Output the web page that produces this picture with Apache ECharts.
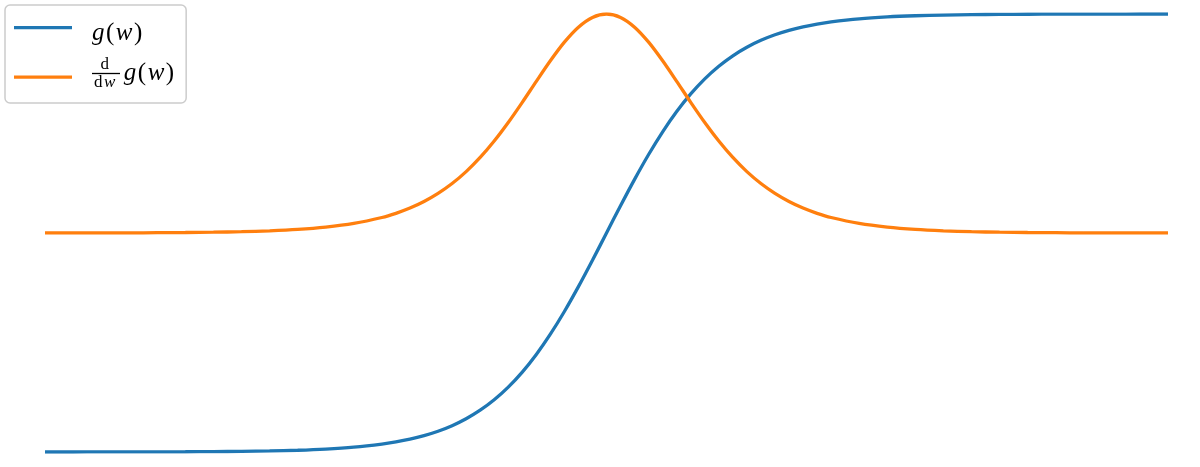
<!DOCTYPE html>
<html>
<head>
<meta charset="utf-8">
<script src="https://cdn.jsdelivr.net/npm/echarts@6/dist/echarts.min.js"></script>
<style>html,body{margin:0;padding:0;background:#fff}#c{width:1200px;height:467px}</style>
</head>
<body>
<div id="c"></div>
<script>
const seriesNames = ['g(w)', 'd/dw g(w)'];
const wValues = [-5,-4.75,-4.5,-4.25,-4,-3.75,-3.5,-3.25,-3,-2.75,-2.5,-2.25,
  -2,-1.875,-1.75,-1.625,-1.5,-1.375,-1.25,-1.125,-1,-0.875,-0.75,-0.625,-0.5,-0.375,-0.25,-0.125,0,
  0.125,0.25,0.375,0.5,0.625,0.75,0.875,1,1.125,1.25,1.375,1.5,1.625,1.75,1.875,2,
  2.25,2.5,2.75,3,3.25,3.5,3.75,4,4.25,4.5,4.75,5];
const gValues = [-0.9999,-0.9999,-0.9998,-0.9996,-0.9993,-0.9989,-0.9982,-0.9970,-0.9951,-0.9919,-0.9866,-0.9780,
  -0.9640,-0.9540,-0.9414,-0.9253,-0.9051,-0.8798,-0.8483,-0.8093,-0.7616,-0.7039,-0.6351,-0.5546,-0.4621,-0.3584,-0.2449,-0.1244,0,
  0.1244,0.2449,0.3584,0.4621,0.5546,0.6351,0.7039,0.7616,0.8093,0.8483,0.8798,0.9051,0.9253,0.9414,0.9540,0.9640,
  0.9780,0.9866,0.9919,0.9951,0.9970,0.9982,0.9989,0.9993,0.9996,0.9998,0.9999,0.9999];
const dgValues = [0.0002,0.0003,0.0005,0.0008,0.0013,0.0022,0.0036,0.0060,0.0099,0.0161,0.0266,0.0435,
  0.0707,0.0899,0.1138,0.1438,0.1808,0.2259,0.2804,0.3450,0.4200,0.5045,0.5966,0.6924,0.7864,0.8716,0.9400,0.9845,1,
  0.9845,0.9400,0.8716,0.7864,0.6924,0.5966,0.5045,0.4200,0.3450,0.2804,0.2259,0.1808,0.1438,0.1138,0.0899,0.0707,
  0.0435,0.0266,0.0161,0.0099,0.0060,0.0036,0.0022,0.0013,0.0008,0.0005,0.0003,0.0002];

const chart = echarts.init(document.getElementById('c'), null, {renderer: 'canvas'});
const serif = "'Liberation Serif', 'Times New Roman', serif";
const rich = {
  gap: {width: 15, align: 'left', fontSize: 10, fontFamily: serif},
  it1: {fontFamily: serif, fontStyle: 'italic', fontSize: 25, color: '#000', align: 'left', lineHeight: 30},
  up1: {fontFamily: serif, fontSize: 25, color: '#000', align: 'left', lineHeight: 30},
  s1: {width: 1.5, align: 'left', fontSize: 10, fontFamily: serif},
  it2: {fontFamily: serif, fontStyle: 'italic', fontSize: 25, color: '#000', align: 'left', lineHeight: 32},
  up2: {fontFamily: serif, fontSize: 25, color: '#000', align: 'left', lineHeight: 32},
  sp: {width: 8.4, align: 'left', fontSize: 10, fontFamily: serif},
  num: {fontFamily: serif, fontSize: 17, color: '#000', width: -8.4, height: 14, align: 'left', verticalAlign: 'top', lineHeight: 14},
  bar: {width: 28, height: 1.3, backgroundColor: '#000', align: 'left', fontSize: 1, lineHeight: 1, fontFamily: serif},
  back: {width: -28, align: 'left', fontSize: 1, lineHeight: 1, fontFamily: serif},
  dl: {width: 2, align: 'left', fontSize: 10, fontFamily: serif},
  dd: {fontFamily: serif, fontSize: 17, color: '#000', height: 14, align: 'left', verticalAlign: 'bottom', lineHeight: 14},
  dsp: {width: 1.5, align: 'left', fontSize: 10, fontFamily: serif},
  dwi: {fontFamily: serif, fontStyle: 'italic', fontSize: 17, color: '#000', height: 14, align: 'left', verticalAlign: 'bottom', lineHeight: 14},
  g2: {width: 8.5, align: 'left', fontSize: 10, fontFamily: serif}
};
chart.setOption({
  animation: false,
  grid: {left: 45, right: 32, top: 14, bottom: 15},
  xAxis: {type: 'value', min: -5, max: 5, show: false},
  yAxis: {type: 'value', min: -1, max: 1, show: false},
  legend: {
    left: 5, top: 5, orient: 'vertical',
    data: [
      {name: seriesNames[0], icon: 'path://M0,0 M0,30 M0,7.5 H58 V10.8 H0 Z'},
      {name: seriesNames[1], icon: 'path://M0,0 M0,30 M0,17 H58 V20.3 H0 Z'}
    ],
    itemWidth: 58, itemHeight: 30, itemGap: 7.5,
    padding: [13.5, 12, 12, 9],
    backgroundColor: 'rgba(255,255,255,0.8)',
    borderColor: '#cccccc', borderWidth: 1.5, borderRadius: 5,
    textStyle: {rich: rich, fontSize: 10, fontFamily: serif},
    formatter: function (name) {
      if (name === seriesNames[0]) return '{gap| }{it1|g}{s1| }{up1|(}{s1| }{it1|w}{s1| }{up1|)}';
      return '{gap| }{sp| }{num|d}{bar| }{back| }{dl| }{dd|d}{dsp| }{dwi|w}{g2| }{it2|g}{s1| }{up2|(}{s1| }{it2|w}{s1| }{up2|)}';
    }
  },
  series: [
    {name: seriesNames[0], type: 'line', showSymbol: false, smooth: 0.3,
     data: wValues.map((w, i) => [w, gValues[i]]),
     lineStyle: {color: '#1f77b4', width: 3.3}, itemStyle: {color: '#1f77b4'}},
    {name: seriesNames[1], type: 'line', showSymbol: false, smooth: 0.3,
     data: wValues.map((w, i) => [w, dgValues[i]]),
     lineStyle: {color: '#ff7f0e', width: 3.3}, itemStyle: {color: '#ff7f0e'}}
  ]
});
</script>
</body>
</html>
